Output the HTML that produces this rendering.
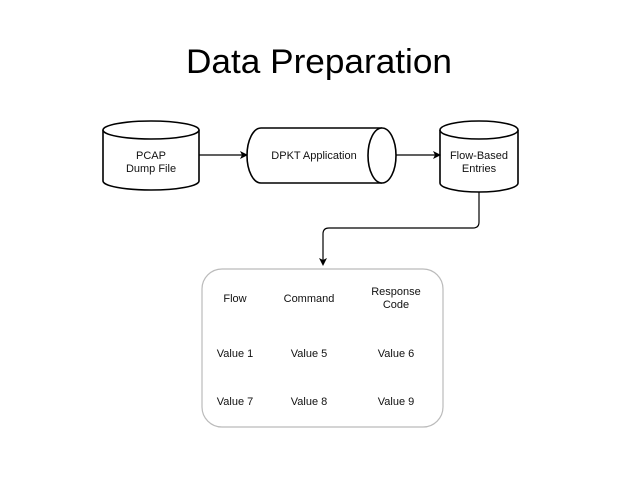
<!DOCTYPE html>
<html><head><style>
body{margin:0;background:#fff;width:638px;height:478px;overflow:hidden}
</style></head><body>
<svg width="638" height="478" viewBox="0 0 638 478" xmlns="http://www.w3.org/2000/svg" font-family="Liberation Sans, sans-serif">
<text x="319" y="73" font-size="34" text-anchor="middle" textLength="266" lengthAdjust="spacingAndGlyphs" fill="#000">Data Preparation</text>
<g fill="#fff" stroke="#000" stroke-width="1.6">
<path d="M103 130 L103 181 A48 9 0 0 0 199 181 L199 130"/>
<ellipse cx="151" cy="130" rx="48" ry="9"/>
<path d="M440 130 L440 183 A39 9 0 0 0 518 183 L518 130"/>
<ellipse cx="479" cy="130" rx="39" ry="9"/>
<path d="M382 128 L261 128 A14 27.5 0 0 0 261 183 L382 183"/>
<ellipse cx="382" cy="155.5" rx="14" ry="27.5"/>
<rect x="202" y="269" width="241" height="158" rx="20" stroke="#bbb" stroke-width="1.2"/>
</g>
<g stroke="#000" stroke-width="1.2" fill="none">
<line x1="199" y1="155" x2="242" y2="155"/>
<line x1="396" y1="155" x2="435" y2="155"/>
<path d="M479 192 L479 222 Q479 228 473 228 L329 228 Q323 228 323 234 L323 260"/>
</g>
<g fill="#000">
<path d="M248 155 L240 151 L242 155 L240 159Z"/>
<path d="M441 155 L433 151 L435 155 L433 159Z"/>
<path d="M323 266 L319 258 L323 260 L327 258Z"/>
</g>
<g font-size="11" text-anchor="middle" fill="#111">
<text x="151" y="159">PCAP</text><text x="151" y="172">Dump File</text>
<text x="314" y="159">DPKT Application</text>
<text x="479" y="159">Flow-Based</text><text x="479" y="172">Entries</text>
<text x="235" y="302">Flow</text>
<text x="309" y="302">Command</text>
<text x="396" y="295">Response</text><text x="396" y="308">Code</text>
<text x="235" y="357">Value 1</text><text x="309" y="357">Value 5</text><text x="396" y="357">Value 6</text>
<text x="235" y="405">Value 7</text><text x="309" y="405">Value 8</text><text x="396" y="405">Value 9</text>
</g>
</svg>
</body></html>
